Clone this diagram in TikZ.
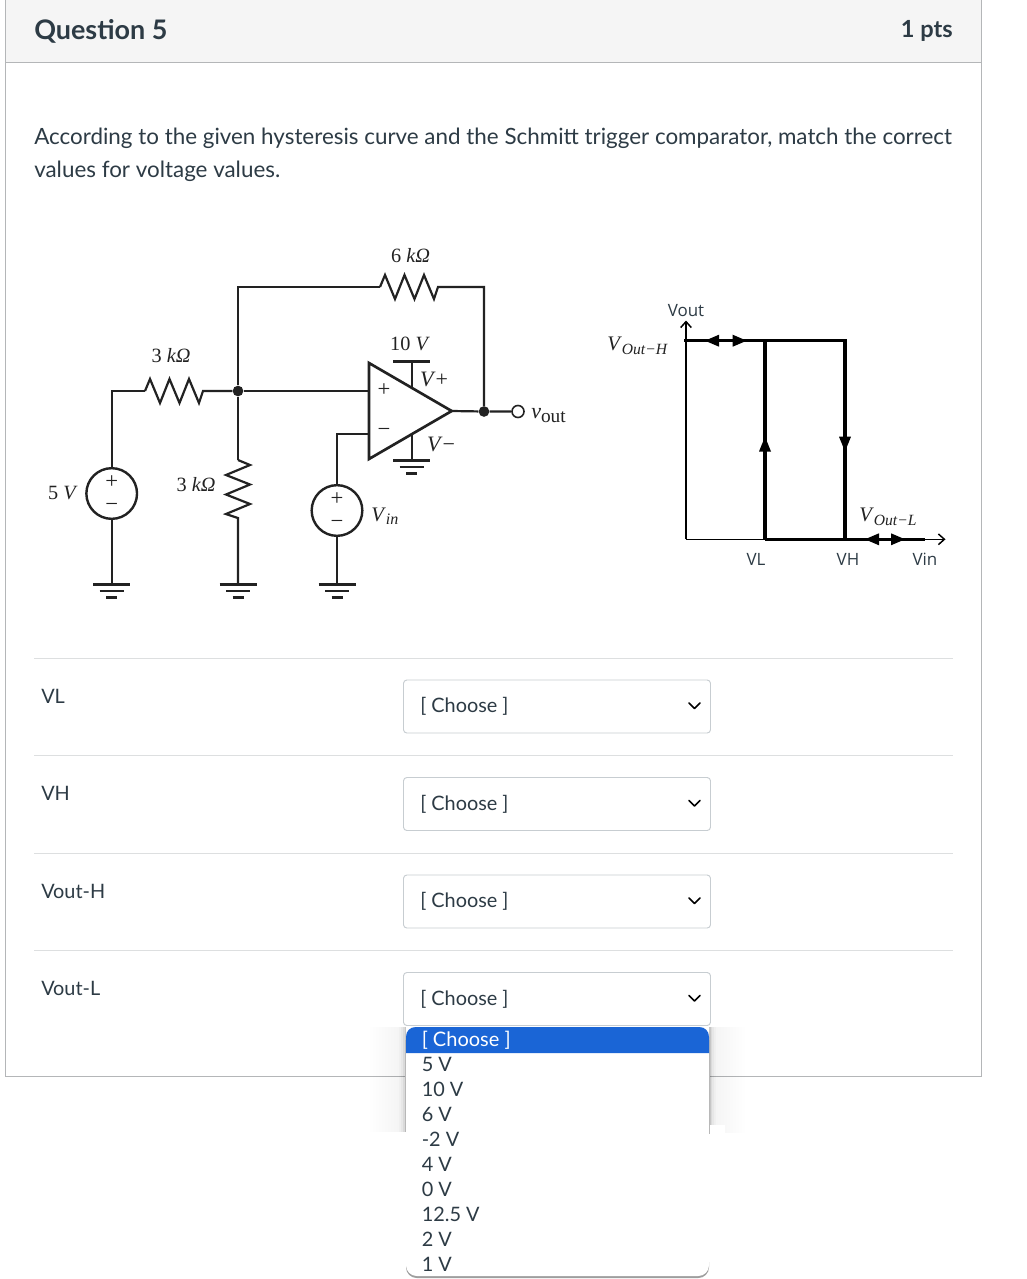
\documentclass[tikz,border=0pt]{standalone}
\usepackage{fontspec}
\setmainfont{Lato}
\newfontfamily\serf{Liberation Serif}
\newfontfamily\plotf{Open Sans}
\usetikzlibrary{arrows.meta,calc}
\definecolor{ink}{HTML}{2D3B45}
\definecolor{headbg}{HTML}{F5F5F5}
\definecolor{frame}{HTML}{B4B6B8}
\definecolor{sep}{HTML}{DDDFE0}
\definecolor{selbd}{HTML}{C7CDD1}
\definecolor{blue}{HTML}{1A65D6}
\definecolor{wire}{HTML}{222222}
\newcommand{\fsz}[1]{\fontsize{#1}{#1}\selectfont}
\tikzset{
  x=0.75pt,y=-0.75pt,
  w/.style={draw=wire,line width=1.65pt,line join=miter},
  thin w/.style={draw=black,line width=1.1pt},
  thick w/.style={draw=black,line width=2.4pt},
  txt/.style={inner sep=0,text=ink,font=\fsz{16.8}},
  lab/.style={inner sep=0,text=ink,font=\fsz{14.9},anchor=west},
  opt/.style={inner sep=0,text=ink,font=\fsz{14.9},anchor=west},
  cir/.style={inner sep=0,text=wire,font=\serf\fsz{15.2}},
  plt/.style={inner sep=0,text=ink,font=\plotf\fsz{12.7}},
  src/.style={circle,draw=wire,line width=1.8pt,minimum size=38pt,inner sep=0},
  dot/.style={circle,fill=wire,inner sep=0,minimum size=8pt},
  open/.style={circle,draw=wire,line width=1.2pt,fill=white,inner sep=0,minimum size=9pt},
  sel/.style={draw=selbd,line width=0.7pt,rounded corners=2.5pt,fill=white},
  sepl/.style={draw=sep,line width=0.75pt},
  tip/.style={fill=black,draw=none},
}
% horizontal and vertical zigzag resistors, 58 px long
\newcommand{\hres}[1]{(#1) -- ++(5,-12) -- ++(10,24) -- ++(9.5,-24) -- ++(10,24) -- ++(9.5,-24) -- ++(10,24) -- ++(4,-12)}
\newcommand{\vres}[1]{(#1) -- ++(12,5) -- ++(-24,10) -- ++(24,9.5) -- ++(-24,10) -- ++(24,9.5) -- ++(-24,10) -- ++(12,4)}
\newcommand{\gnd}[1]{
  \draw[w] ($(#1)+(-18.5,0)$) -- ($(#1)+(18.5,0)$);
  \draw[w] ($(#1)+(-12,6.5)$) -- ($(#1)+(12,6.5)$);
  \draw[w] ($(#1)+(-5.5,13)$) -- ($(#1)+(5.5,13)$);
}
\newcommand{\selbox}[3]{% name, top, bottom
  \draw[sel] (403.5,#2) rectangle (710.5,#3);
  \node[opt,text=ink] (#1) at (420,{#2+26.5}) {[ Choose ]};
  \draw[black,line width=1.3pt,line cap=round,line join=round] (689,{#2+23}) -- (694.5,{#2+28.5}) -- (700,{#2+23});
}
\begin{document}
\begin{tikzpicture}
\useasboundingbox (0,0) rectangle (1027,1279);
\fill[white] (0,0) rectangle (1027,1279);
% card
\fill[headbg] (5,0) rectangle (981,62.5);
\draw[frame,line width=0.75pt] (5,0) -- (5,1076) -- (981,1076) -- (981,0);
\draw[frame,line width=0.75pt] (5,62.5) -- (981,62.5);
\node[inner sep=0,anchor=west,text=ink,font=\fsz{20.2}\bfseries] (title) at (34,31) {Question 5};
\node[inner sep=0,anchor=east,text=ink,font=\fsz{17.7}\bfseries] (pts) at (953,31) {1 pts};
\node[txt,anchor=west] (q1) at (34,138) {According to the given hysteresis curve and the Schmitt trigger comparator, match the correct};
\node[txt,anchor=west] (q2) at (34,171) {values for voltage values.};

% ---------- circuit ----------
\node[src] (s1) at (111.7,493.5) {};
\node[src] (s2) at (337,510.5) {};
\node[dot] (j1) at (238,391) {};
\node[dot] (j2) at (484,411.5) {};
\node[open] (vo) at (518,411.5) {};
\coordinate (g1) at (111.7,584.5);
\coordinate (g2) at (238,584.5);
\coordinate (g3) at (337,584.5);
\coordinate (g4) at (411.7,460.5);
\coordinate (r1a) at (145,391);
\coordinate (r2a) at (238,460);
\coordinate (r3a) at (380,287);
\coordinate (oa) at (369,363);
\coordinate (ob) at (369,459);
\coordinate (oc) at (451.7,411);
\coordinate (vp) at (411.7,361.5);
\draw[draw=wire,line width=2pt,line join=miter] (oa) -- (oc) -- (ob) -- cycle;
\draw[w] (s1.north) |- (r1a);
\draw[w] \hres{r1a} -- (j1);
\draw[w] (j1) -- (r2a);
\draw[w] \vres{r2a} -- (g2);
\draw[w] (s1.south) -- (g1);
\draw[w] (s2.south) -- (g3);
\draw[w] (j1) -- (238,287) -- (r3a);
\draw[w] \hres{r3a} -- (484,287) -- (j2);
\draw[w] (j1) -- (369,391);
\draw[w] (s2.north) |- (369,434);
\draw[w] (oc) -- (j2) -- (vo);
\draw[w] ($(vp)+(-18.5,0)$) -- ($(vp)+(18.5,0)$);
\draw[w] (vp) -- (411.7,387.5);
\draw[w] (411.7,434.5) -- (g4);
\gnd{g1}\gnd{g2}\gnd{g3}\gnd{g4}
\node[cir] (ps1) at (111.7,482) {\fsz{17}+};
\node[cir] (ms1) at (111.7,507.5) {\fsz{17}−};
\node[cir] (ps2) at (337,499) {\fsz{17}+};
\node[cir] (ms2) at (337,524.5) {\fsz{17}−};
\node[cir] (pp) at (384,390) {\fsz{17}+};
\node[cir] (pm) at (384,432) {\fsz{17}−};
\node[cir] (l5v) at (63,493.5) {5 \textit{V}};
\node[cir] (l3a) at (171,355.5) {3 \textit{kΩ}};
\node[cir] (l3b) at (196,484.5) {3 \textit{kΩ}};
\node[cir] (l6) at (410.5,255.5) {6 \textit{kΩ}};
\node[cir] (l10) at (410,344) {10 \textit{V}};
\node[cir,font=\serf\fsz{16.5}] (lvp) at (434,379) {\textit{V}+};
\node[cir,font=\serf\fsz{16.5}] (lvm) at (441,444) {\textit{V}−};
\node[cir,anchor=west,font=\serf\fsz{16.5}] (lvo) at (531,416) {\textit{v}\raisebox{-3pt}{\fsz{14.5}out}};
\node[cir,anchor=west,font=\serf\fsz{15.5}] (lvi) at (371,516) {\textit{V}\raisebox{-2.5pt}{\fsz{12}\textit{in}}};

% ---------- hysteresis plot ----------
\coordinate (org) at (686,539.3);
\coordinate (ytop) at (686,320.5);
\coordinate (xend) at (945.5,539.3);
\coordinate (hl) at (686,340.7);
\coordinate (tl) at (765,340.7);
\coordinate (tr) at (845,340.7);
\coordinate (bl) at (765,539.3);
\coordinate (br) at (845,539.3);
\coordinate (be) at (925,539.3);
\draw[thin w,-{Straight Barb[length=4.5pt,width=8pt]}] (org) -- (ytop);
\draw[thin w,-{Straight Barb[length=4.5pt,width=8pt]}] (org) -- (xend);
\draw[thick w,line cap=rect] (hl) -- (tr) -- (br);
\draw[thick w] (tl) -- (bl);
\draw[thick w] (bl) -- (be);
\fill[tip] (705,340.7) -- (719,334.7) -- (719,346.7) -- cycle;
\fill[tip] (746.7,340.7) -- (732.7,334.7) -- (732.7,346.7) -- cycle;
\fill[tip] (865,539.3) -- (879,533.3) -- (879,545.3) -- cycle;
\fill[tip] (905,539.3) -- (891,533.3) -- (891,545.3) -- cycle;
\fill[tip] (765,436.7) -- (759,451.5) -- (771,451.5) -- cycle;
\fill[tip] (845,451.5) -- (839,436.7) -- (851,436.7) -- cycle;
\node[plt] (lvout) at (686,310.5) {Vout};
\node[plt] (lvl) at (756,559.5) {VL};
\node[plt] (lvh) at (848,559.5) {VH};
\node[plt] (lvin) at (925,559.5) {Vin};
\node[cir,anchor=west] (lh) at (607,346) {\fsz{15.5}\textit{V}\raisebox{-3pt}{\fsz{11.7}\textit{Out−H}}};
\node[cir,anchor=west] (ll) at (859,517) {\fsz{15.5}\textit{V}\raisebox{-3pt}{\fsz{11.7}\textit{Out−L}}};

% ---------- match rows ----------
\draw[sepl] (34,658) -- (953,658);
\draw[sepl] (34,755.5) -- (953,755.5);
\draw[sepl] (34,853) -- (953,853);
\draw[sepl] (34,950.5) -- (953,950.5);
\node[lab] (a) at (41,696.5) {VL};
\node[lab] (b) at (41,793.5) {VH};
\node[lab] (c) at (41,891.5) {Vout-H};
\node[lab] (d) at (41,988.5) {Vout-L};
\selbox{c1}{680}{733}
\selbox{c2}{777.5}{830.5}
\selbox{c3}{875}{928}
\selbox{c4}{972.5}{1025.5}

% ---------- dropdown ----------
\begin{scope}
  \clip (340,1027) rectangle (780,1132);
  \foreach \d in {36,33,...,3}{
    \fill[black,opacity=0.0055,rounded corners=10pt] (406-\d,1027-\d) rectangle (709+\d,1279);
  }
  \foreach \d/\o in {7/0.02,5/0.03,3/0.05,1.5/0.09}{
    \fill[black,opacity=\o] (406-\d,1027-\d) rectangle (709+\d,1279);
  }
\end{scope}
\fill[white] (367,1132) rectangle (725,1279);
\fill[white] (709,1125) rectangle (725,1132);
\begin{scope}
  \clip (400,1262) rectangle (715,1279);
  \fill[black!38,rounded corners=8pt] (406,1200) rectangle (709,1278);
\end{scope}
\fill[white,rounded corners=8pt] (406,1200) rectangle (709,1276);
\fill[white] (406,1027) rectangle (709,1220);
\draw[black!28,line width=0.8pt] (405.7,1040) -- (405.7,1132);
\draw[black!28,line width=0.8pt] (709.3,1040) -- (709.3,1134);
\fill[blue] (406,1053) -- (406,1037) .. controls (406,1031) and (410,1027) .. (416,1027) -- (699,1027) .. controls (705,1027) and (709,1031) .. (709,1037) -- (709,1053) -- cycle;
\node[opt,text=white,font=\fsz{15}] (o0) at (421.5,1040) {[ Choose ]};
\node[opt] (o1) at (421.5,1064.5) {5 V};
\node[opt] (o2) at (421.5,1089.5) {10 V};
\node[opt] (o3) at (421.5,1114.5) {6 V};
\node[opt] (o4) at (421.5,1139.5) {-2 V};
\node[opt] (o5) at (421.5,1164.5) {4 V};
\node[opt] (o6) at (421.5,1189.5) {0 V};
\node[opt] (o7) at (421.5,1214.5) {12.5 V};
\node[opt] (o8) at (421.5,1239.5) {2 V};
\node[opt] (o9) at (421.5,1264.5) {1 V};
\end{tikzpicture}
\end{document}
